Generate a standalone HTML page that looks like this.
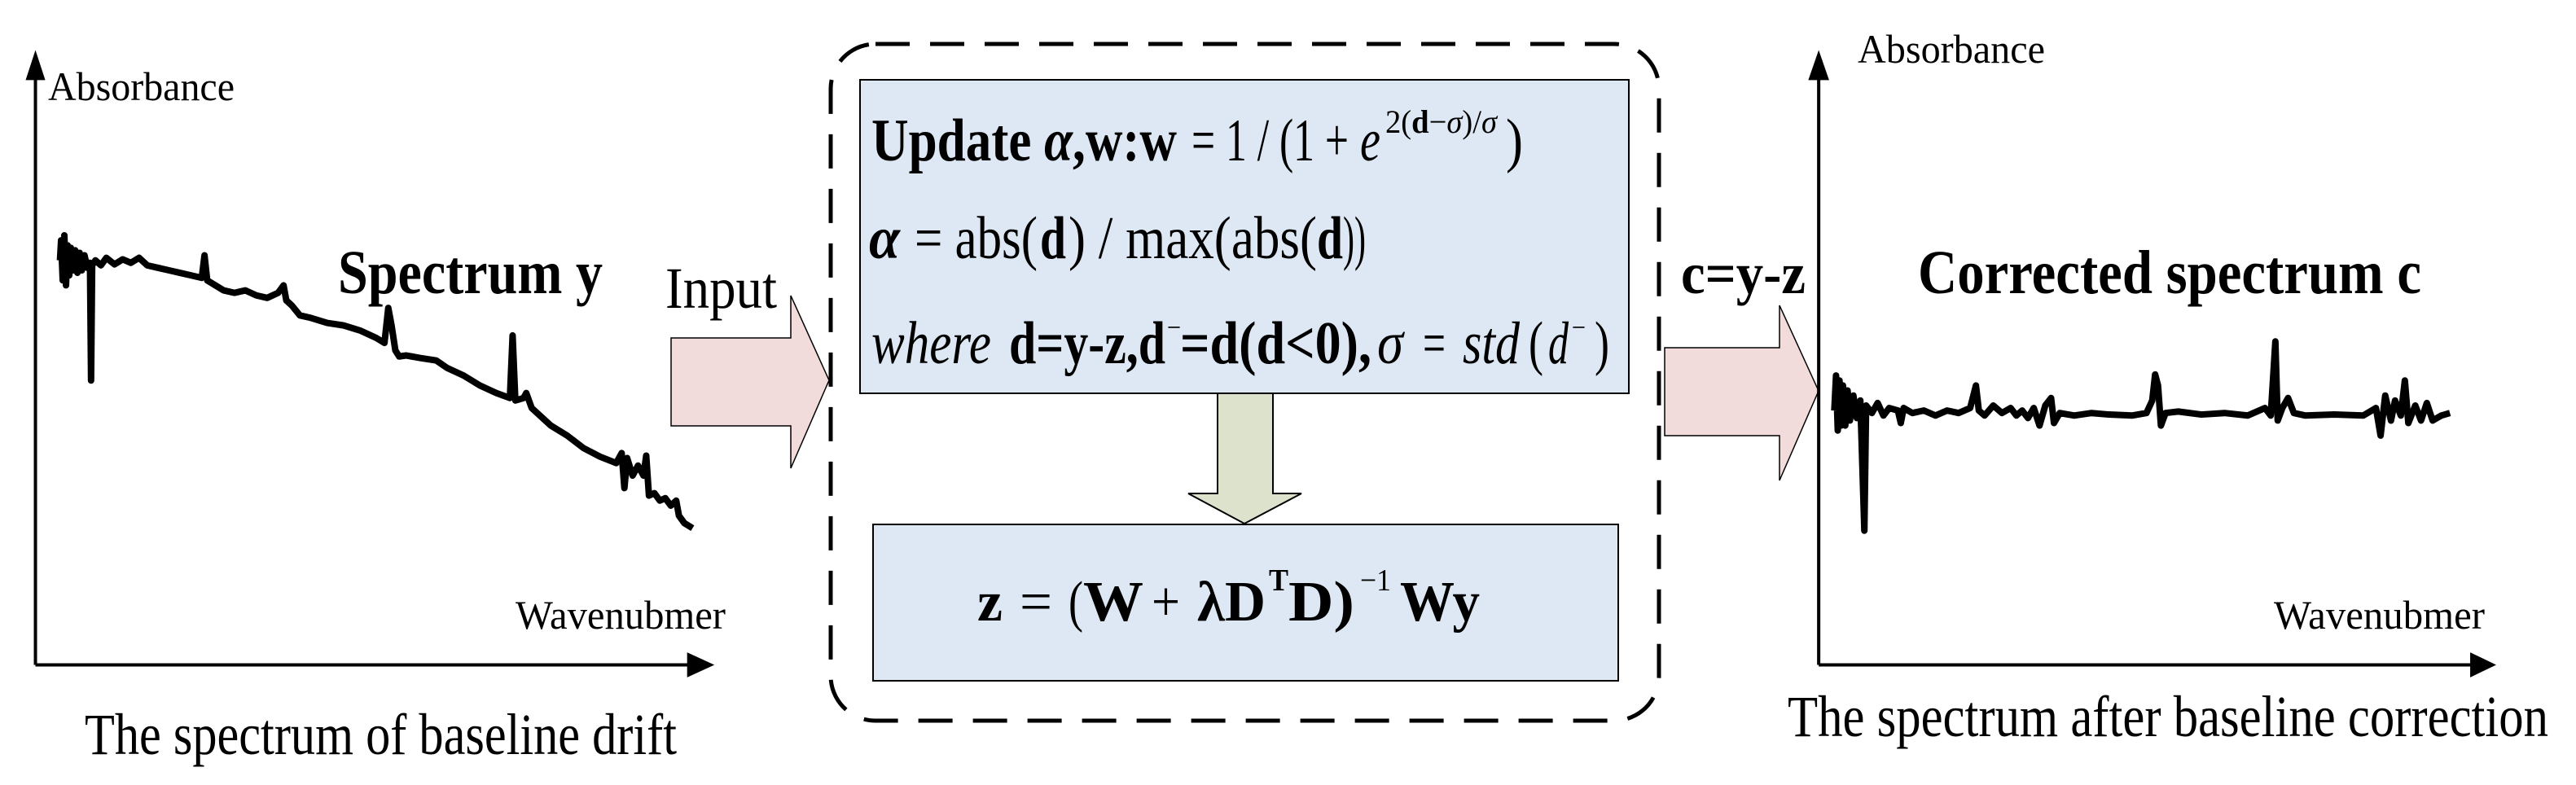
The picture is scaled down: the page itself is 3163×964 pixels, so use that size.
<!DOCTYPE html>
<html><head><meta charset="utf-8"><style>html,body{margin:0;padding:0;background:#fff}svg{display:block}</style></head><body>
<svg width="3163" height="964" viewBox="0 0 3163 964" xmlns="http://www.w3.org/2000/svg" font-family="'Liberation Serif', serif">
<!-- LEFT PANEL (zoom coords) -->
<g transform="scale(0.6696,0.6148)">
<line x1="65" y1="1328" x2="65" y2="140" stroke="#000" stroke-width="4" vector-effect="non-scaling-stroke"/>
<polygon points="65,100 47,160 83,160" fill="#000"/>
<line x1="65" y1="1328" x2="1270" y2="1328" stroke="#000" stroke-width="4" vector-effect="non-scaling-stroke"/>
<polygon points="1310,1328 1260,1303 1260,1353" fill="#000"/>
<path d="M110 520 L112 480 L115 560 L118 470 L121 570 L124 490 L127 550 L130 495 L134 540 L138 500 L142 545 L146 505 L150 540 L155 510 L160 535 L165 525 L167 760 L169 530 L175 520 L185 530 L195 515 L210 528 L225 518 L240 525 L255 515 L270 530 L290 535 L310 540 L330 545 L350 550 L370 555 L375 510 L380 560 L395 570 L410 580 L430 585 L450 580 L470 590 L490 595 L510 585 L520 570 L525 600 L535 610 L550 630 L570 635 L600 645 L630 650 L660 660 L690 675 L705 685 L712 615 L718 650 L725 700 L732 712 L745 710 L770 715 L800 720 L820 735 L850 750 L880 770 L910 785 L935 795 L940 670 L945 800 L960 795 L965 785 L975 815 L990 830 L1010 850 L1040 870 L1070 895 L1100 912 L1130 925 L1140 905 L1145 975 L1150 915 L1160 950 L1170 930 L1180 950 L1185 910 L1190 990 L1200 985 L1210 1000 L1220 995 L1230 1010 L1240 1000 L1245 1030 L1255 1045 L1270 1055" fill="none" stroke="#000" stroke-width="8" stroke-linejoin="round" vector-effect="non-scaling-stroke"/>
</g>
<polygon points="824,415 971,415 971,363 1018,467 971,575 971,523 824,523" fill="#f2dcdb" stroke="#000" stroke-width="1.5"/>
<text x="59" y="123" font-size="50" textLength="229" lengthAdjust="spacingAndGlyphs">Absorbance</text>
<text x="415" y="360" font-size="76" font-weight="bold" textLength="325" lengthAdjust="spacingAndGlyphs">Spectrum y</text>
<text x="817" y="378" font-size="72" textLength="137" lengthAdjust="spacingAndGlyphs">Input</text>
<text x="633" y="772" font-size="50" textLength="258" lengthAdjust="spacingAndGlyphs">Wavenubmer</text>
<text x="104" y="926" font-size="72" textLength="727" lengthAdjust="spacingAndGlyphs">The spectrum of baseline drift</text>

<!-- MIDDLE -->
<rect x="1020" y="54" width="1017" height="831" rx="55" fill="none" stroke="#000" stroke-width="5" stroke-dasharray="42 25"/>
<rect x="1056" y="98" width="944" height="385" fill="#dde8f4" stroke="#000" stroke-width="2"/>
<rect x="1072" y="644" width="915" height="192" fill="#dde8f4" stroke="#000" stroke-width="2"/>
<polygon points="1495,483 1563,483 1563,606 1598,606 1528,643 1459,606 1495,606" fill="#dde2cc" stroke="#000" stroke-width="2"/>
<g font-size="74">
<text x="1070" y="197" font-weight="bold" textLength="375" lengthAdjust="spacingAndGlyphs">Update <tspan font-style="italic">α</tspan>,w:w</text>
<text x="1463" y="197" textLength="193" lengthAdjust="spacingAndGlyphs">= 1 / (1 +</text>
<text x="1670" y="197" font-style="italic" textLength="25" lengthAdjust="spacingAndGlyphs">e</text>
<text x="1701" y="163" font-size="40" textLength="137" lengthAdjust="spacingAndGlyphs">2(<tspan font-weight="bold">d</tspan>−<tspan font-style="italic">σ</tspan>)/<tspan font-style="italic">σ</tspan></text>
<text x="1849" y="197" textLength="21" lengthAdjust="spacingAndGlyphs">)</text>

<text x="1067" y="317" font-weight="bold" font-style="italic" textLength="38" lengthAdjust="spacingAndGlyphs">α</text>
<text x="1123" y="317" textLength="151" lengthAdjust="spacingAndGlyphs">= abs(</text>
<text x="1277" y="317" font-weight="bold" textLength="32" lengthAdjust="spacingAndGlyphs">d</text>
<text x="1312" y="317" textLength="305" lengthAdjust="spacingAndGlyphs">) / max(abs(</text>
<text x="1617" y="317" font-weight="bold" textLength="32" lengthAdjust="spacingAndGlyphs">d</text>
<text x="1649" y="317" textLength="28" lengthAdjust="spacingAndGlyphs">))</text>

<text x="1070" y="446" font-style="italic" textLength="147" lengthAdjust="spacingAndGlyphs">where</text>
<text x="1239" y="446" font-weight="bold" textLength="192" lengthAdjust="spacingAndGlyphs">d=y-z,d</text>
<text x="1432" y="420" font-size="36">⁻</text>
<text x="1449" y="446" font-weight="bold" textLength="235" lengthAdjust="spacingAndGlyphs">=d(d&lt;0),</text>
<text x="1691" y="446" font-style="italic" textLength="32" lengthAdjust="spacingAndGlyphs">σ</text>
<text x="1747" y="446" textLength="28" lengthAdjust="spacingAndGlyphs">=</text>
<text x="1796" y="446" font-style="italic" textLength="70" lengthAdjust="spacingAndGlyphs">std</text>
<text x="1877" y="446" textLength="18" lengthAdjust="spacingAndGlyphs">(</text>
<text x="1901" y="446" font-style="italic" textLength="25" lengthAdjust="spacingAndGlyphs">d</text>
<text x="1929" y="420" font-size="36">⁻</text>
<text x="1958" y="446" textLength="18" lengthAdjust="spacingAndGlyphs">)</text>
</g>
<g font-size="70">
<text x="1200" y="762" font-weight="bold" textLength="31" lengthAdjust="spacingAndGlyphs">z</text>
<text x="1252" y="762" textLength="40" lengthAdjust="spacingAndGlyphs">=</text>
<text x="1312" y="762" textLength="18" lengthAdjust="spacingAndGlyphs">(</text>
<text x="1330" y="762" font-weight="bold" textLength="74" lengthAdjust="spacingAndGlyphs">W</text>
<text x="1414" y="762" textLength="35" lengthAdjust="spacingAndGlyphs">+</text>
<text x="1470" y="762" font-weight="bold" textLength="84" lengthAdjust="spacingAndGlyphs">λD</text>
<text x="1558" y="725" font-size="38" font-weight="bold" textLength="24" lengthAdjust="spacingAndGlyphs">T</text>
<text x="1582" y="762" font-weight="bold" textLength="81" lengthAdjust="spacingAndGlyphs">D)</text>
<text x="1670" y="725" font-size="38" textLength="38" lengthAdjust="spacingAndGlyphs">−1</text>
<text x="1719" y="762" font-weight="bold" textLength="98" lengthAdjust="spacingAndGlyphs">Wy</text>
</g>

<!-- RIGHT PANEL -->
<polygon points="2044,427 2185,427 2185,375 2233,480 2185,590 2185,535 2044,535" fill="#f2dcdb" stroke="#000" stroke-width="1.5"/>
<g transform="translate(2050,0) scale(0.7098,0.6148)">
<line x1="258" y1="1328" x2="258" y2="140" stroke="#000" stroke-width="4" vector-effect="non-scaling-stroke"/>
<polygon points="258,100 240,160 276,160" fill="#000"/>
<line x1="258" y1="1328" x2="1390" y2="1328" stroke="#000" stroke-width="4" vector-effect="non-scaling-stroke"/>
<polygon points="1430,1328 1385,1303 1385,1353" fill="#000"/>
<path d="M285 820 L288 750 L291 860 L294 760 L297 850 L300 770 L304 850 L308 780 L312 840 L318 790 L324 835 L330 800 L337 1060 L340 810 L350 825 L360 805 L370 830 L380 815 L395 820 L400 845 L405 815 L420 825 L440 820 L460 830 L480 820 L500 825 L520 815 L530 770 L535 820 L545 830 L560 810 L575 825 L590 815 L600 830 L610 820 L620 835 L630 815 L640 850 L650 810 L660 795 L665 845 L675 825 L700 830 L730 825 L760 828 L800 830 L825 825 L835 800 L840 748 L845 770 L850 850 L858 825 L880 822 L920 828 L960 825 L1000 830 L1030 815 L1040 830 L1048 682 L1052 840 L1060 815 L1070 795 L1080 825 L1100 830 L1150 828 L1200 830 L1222 815 L1230 870 L1238 790 L1248 840 L1255 800 L1265 830 L1272 760 L1278 845 L1290 810 L1300 840 L1310 805 L1320 840 L1335 830 L1350 825" fill="none" stroke="#000" stroke-width="8" stroke-linejoin="round" vector-effect="non-scaling-stroke"/>
</g>
<text x="2281" y="77" font-size="50" textLength="230" lengthAdjust="spacingAndGlyphs">Absorbance</text>
<text x="2064" y="360" font-size="72" font-weight="bold" textLength="153" lengthAdjust="spacingAndGlyphs">c=y-z</text>
<text x="2355" y="360" font-size="76" font-weight="bold" textLength="618" lengthAdjust="spacingAndGlyphs">Corrected spectrum c</text>
<text x="2792" y="772" font-size="50" textLength="259" lengthAdjust="spacingAndGlyphs">Wavenubmer</text>
<text x="2195" y="904" font-size="72" textLength="934" lengthAdjust="spacingAndGlyphs">The spectrum after baseline correction</text>
</svg>
</body></html>
